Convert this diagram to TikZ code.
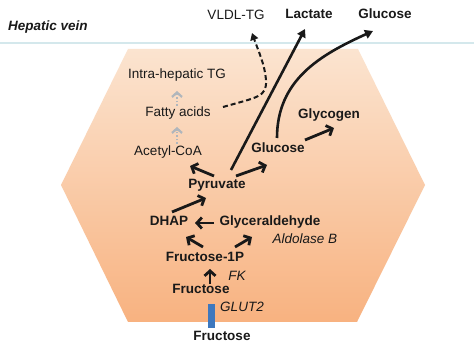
\documentclass[tikz,border=0pt]{standalone}
\usepackage{fontspec}
\setmainfont{Liberation Sans}
\usetikzlibrary{arrows.meta}
\definecolor{hexTop}{RGB}{251,228,208}
\definecolor{hexBot}{RGB}{248,178,128}
\definecolor{veinLine}{RGB}{212,232,236}
\definecolor{greyArr}{RGB}{176,182,188}
\definecolor{glutBlue}{RGB}{62,120,190}
\definecolor{txt}{RGB}{25,25,25}
\begin{document}
\begin{tikzpicture}[x=1pt,y=-1pt,
  lbl/.style={text=txt, inner sep=0pt, text height=9.5pt, text depth=2.5pt, font=\fontsize{13.5}{15}\selectfont},
  blbl/.style={lbl, font=\fontsize{13.5}{15}\selectfont\bfseries},
  ilbl/.style={lbl, font=\fontsize{13.5}{15}\selectfont\itshape},
  arr/.style={draw=txt, line width=2.8pt, -{Straight Barb[length=5pt,width=11pt]}},
  oarr/.style={draw=txt, line width=2.6pt, -{Triangle[length=8pt,width=9pt]}},
  darr/.style={draw=txt, line width=2pt, dash pattern=on 5pt off 3pt, -{Triangle[length=7pt,width=8pt]}},
  garr/.style={draw=greyArr, line width=2pt, dash pattern=on 1.5pt off 2pt, -{Straight Barb[length=4.5pt,width=10pt,line width=2.2pt]}}
]
\useasboundingbox (0,0) rectangle (474,363);
\fill[white] (0,0) rectangle (474,363);
% vein line
\draw[veinLine, line width=1.5pt] (0,43) -- (474,43);
% hepatocyte hexagon
\shade[top color=hexTop, bottom color=hexBot] (128,49) -- (358,49) -- (425,185) -- (357,322) -- (128,322) -- (61,185) -- cycle;

% labels
\node[blbl, font=\fontsize{13.5}{15}\selectfont\bfseries\itshape, anchor=west] (hv) at (8,27) {Hepatic vein};
\node[lbl] (vldl) at (236,16) {VLDL-TG};
\node[blbl] (lac) at (309,15) {Lactate};
\node[blbl] (gluo) at (385,15) {Glucose};
\node[lbl] (iht) at (177,75) {Intra-hepatic TG};
\node[lbl] (fa) at (178,113) {Fatty acids};
\node[lbl] (acoa) at (168,152) {Acetyl-CoA};
\node[blbl] (glu) at (278,149) {Glucose};
\node[blbl] (gly) at (329,115) {Glycogen};
\node[blbl] (pyr) at (217,185) {Pyruvate};
\node[blbl] (dhap) at (169,222) {DHAP};
\node[blbl] (gald) at (270,222) {Glyceraldehyde};
\node[ilbl] (aldb) at (305,240) {Aldolase B};
\node[blbl] (f1p) at (205,258) {Fructose-1P};
\node[ilbl] (fk) at (237,277) {FK};
\node[blbl] (fru) at (201,290) {Fructose};
\node[ilbl] (glut) at (242,308) {GLUT2};
\node[blbl] (frub) at (222,337) {Fructose};
\node[fill=glutBlue, minimum width=7pt, minimum height=24pt, inner sep=0pt] (glutbar) at (211.5,316) {};

% coordinates for connector ends
\coordinate (faR) at (223,107);
\coordinate (vldlTip) at (252,33);
\coordinate (pyrTop) at (231,170);
\coordinate (lacTip) at (305,29);
\coordinate (gluTop) at (277,138);
\coordinate (gluoTip) at (373,31);

% grey arrows
\draw[garr] (177,106) -- (177,91);
\draw[garr] (177,144) -- (177,127);

% black arrows
\draw[darr] (faR) .. controls (258,97) and (267,97) .. (266,80) .. controls (265,65) and (258,50) .. (vldlTip);
\draw[oarr] (pyrTop) -- (lacTip);
\draw[oarr] (gluTop) .. controls (277,80) and (320,55) .. (gluoTip);
\draw[arr] (305,140) -- (334,128);
\draw[arr] (214,176) -- (190,166);
\draw[arr] (236,176) -- (267,165);
\draw[arr] (172,212) -- (206,198);
\draw[arr] (214,223) -- (195,223);
\draw[arr] (203,247) -- (186,237);
\draw[arr] (235,247) -- (252,237);
\draw[arr] (210,284) -- (210,269);
\end{tikzpicture}
\end{document}
